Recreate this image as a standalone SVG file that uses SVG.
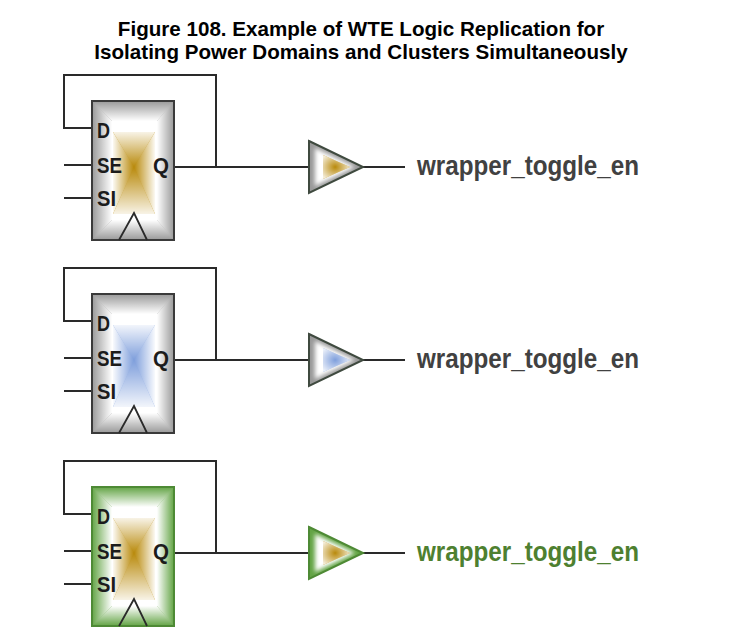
<svg xmlns="http://www.w3.org/2000/svg" width="733" height="637" viewBox="0 0 733 637">
<style>
.title{font:bold 20.6px "Liberation Sans",Arial,sans-serif;fill:#000;text-anchor:middle}
.pin{font:bold 22px "Liberation Sans",Arial,sans-serif;fill:#1c1c1c}
.sig{font:bold 27px "Liberation Sans",Arial,sans-serif;fill:#414141}
.green{fill:#4e8030}
.wire{fill:none;stroke:#2a2a2a;stroke-width:2}
.clk{fill:none;stroke:#2a2a2a;stroke-width:1.8}
</style>
<defs>
<filter id="soft" x="-30%" y="-30%" width="160%" height="160%"><feGaussianBlur stdDeviation="2"/></filter>
<clipPath id="bufClip"><path d="M309 141L363 167L309 193Z"/></clipPath>
<radialGradient id="bufFade" cx="0.45" cy="0.5" r="0.6"><stop offset="0" stop-color="#fff" stop-opacity="0"/><stop offset="1" stop-color="#fff" stop-opacity="0.85"/></radialGradient>
<linearGradient id="wl" x1="0" x2="1" y1="0" y2="0"><stop offset="0" stop-color="#fff" stop-opacity="0"/><stop offset="1" stop-color="#fff"/></linearGradient>
<linearGradient id="wr" x1="1" x2="0" y1="0" y2="0"><stop offset="0" stop-color="#fff" stop-opacity="0"/><stop offset="1" stop-color="#fff"/></linearGradient>
<linearGradient id="wt" x1="0" x2="0" y1="0" y2="1"><stop offset="0" stop-color="#fff" stop-opacity="0"/><stop offset="1" stop-color="#fff"/></linearGradient>
<linearGradient id="wb" x1="0" x2="0" y1="1" y2="0"><stop offset="0" stop-color="#fff" stop-opacity="0"/><stop offset="1" stop-color="#fff"/></linearGradient>
<linearGradient id="cl" x1="0" x2="1" y1="0" y2="0"><stop offset="0" stop-color="#fff" stop-opacity="0.95"/><stop offset="1" stop-color="#fff" stop-opacity="0"/></linearGradient>
<linearGradient id="cr" x1="1" x2="0" y1="0" y2="0"><stop offset="0" stop-color="#fff" stop-opacity="0.95"/><stop offset="1" stop-color="#fff" stop-opacity="0"/></linearGradient>
<linearGradient id="ct" x1="0" x2="0" y1="0" y2="1"><stop offset="0" stop-color="#fff" stop-opacity="0.9"/><stop offset="1" stop-color="#fff" stop-opacity="0"/></linearGradient>
<linearGradient id="cb" x1="0" x2="0" y1="1" y2="0"><stop offset="0" stop-color="#fff" stop-opacity="0.9"/><stop offset="1" stop-color="#fff" stop-opacity="0"/></linearGradient>
<g id="ffOverlay">
<path fill="url(#wl)" d="M92 101L112 121V220L92 240Z"/>
<path fill="url(#wr)" d="M174 101L157 121V220L174 240Z"/>
<path fill="url(#wt)" d="M92 101H174L157 121H112Z"/>
<path fill="url(#wb)" d="M92 240H174L157 220H112Z"/>
<rect x="112" y="121" width="45" height="99" fill="#fff"/>
</g>
<g id="ffCore">
<path fill="url(#cl)" d="M113 132L134 167L113 214Z"/>
<path fill="url(#cr)" d="M155 132L134 167L155 214Z"/>
<path fill="url(#ct)" d="M113 132H155L134 167Z"/>
<path fill="url(#cb)" d="M113 214H155L134 167Z"/>
</g>
<g id="ffWires">
<path class="wire" d="M92 128H64V75H216V167"/>
<path class="wire" d="M64 165H92M64 198H92M174 167H309M363 167H405"/>
</g>
<g id="bufWhite">
<g clip-path="url(#bufClip)"><path d="M315 148L355 167L315 186Z" fill="#fff" filter="url(#soft)"/></g>
</g>
<g id="pins">
<text class="pin" x="97" y="138" textLength="13" lengthAdjust="spacingAndGlyphs">D</text>
<text class="pin" x="97" y="173" textLength="25" lengthAdjust="spacingAndGlyphs">SE</text>
<text class="pin" x="97" y="206" textLength="19" lengthAdjust="spacingAndGlyphs">SI</text>
<text class="pin" x="153" y="173" textLength="16" lengthAdjust="spacingAndGlyphs">Q</text>
</g>
</defs>
<g id="title">
<text class="title" x="361" y="36">Figure 108. Example of WTE Logic Replication for</text>
<text class="title" x="361" y="59">Isolating Power Domains and Clusters Simultaneously</text>
</g>
<g id="connectors">
<use href="#ffWires"/>
<use href="#ffWires" y="193"/>
<use href="#ffWires" y="386"/>
</g>
<g id="ff1">
<rect x="92" y="101" width="82" height="139" fill="#999"/>
<use href="#ffOverlay"/>
<rect x="113" y="132" width="42" height="82" fill="#b98a0c"/>
<use href="#ffCore"/>
<rect x="92" y="101" width="82" height="139" fill="none" stroke="#3a3a3a" stroke-width="2"/>
<path class="clk" d="M119 240L134 213L147 240"/>
<use href="#pins"/>
</g>
<g id="ff2" transform="translate(0 193)">
<rect x="92" y="101" width="82" height="139" fill="#999"/>
<use href="#ffOverlay"/>
<rect x="113" y="132" width="42" height="82" fill="#7f9fdc"/>
<use href="#ffCore"/>
<rect x="92" y="101" width="82" height="139" fill="none" stroke="#3a3a3a" stroke-width="2"/>
<path class="clk" d="M119 240L134 213L147 240"/>
<use href="#pins"/>
</g>
<g id="ff3" transform="translate(0 386)">
<rect x="92" y="101" width="82" height="139" fill="#63a445"/>
<use href="#ffOverlay"/>
<rect x="113" y="132" width="42" height="82" fill="#b98a0c"/>
<use href="#ffCore"/>
<rect x="92" y="101" width="82" height="139" fill="none" stroke="#4e8a35" stroke-width="2"/>
<path class="clk" d="M119 240L134 213L147 240"/>
<use href="#pins"/>
</g>
<g id="buf1">
<path d="M309 141L363 167L309 193Z" fill="#999"/>
<use href="#bufWhite"/>
<path d="M323 155L350 167L323 179Z" fill="#b98a0c"/>
<path d="M323 155L350 167L323 179Z" fill="url(#bufFade)"/>
<path d="M309 141L363 167L309 193Z" fill="none" stroke="#3f4a3f" stroke-width="2"/>
</g>
<g id="buf2" transform="translate(0 193)">
<path d="M309 141L363 167L309 193Z" fill="#999"/>
<use href="#bufWhite"/>
<path d="M323 155L350 167L323 179Z" fill="#7f9fdc"/>
<path d="M323 155L350 167L323 179Z" fill="url(#bufFade)"/>
<path d="M309 141L363 167L309 193Z" fill="none" stroke="#3f4a3f" stroke-width="2"/>
</g>
<g id="buf3" transform="translate(0 386)">
<path d="M309 141L363 167L309 193Z" fill="#63a445"/>
<use href="#bufWhite"/>
<path d="M323 155L350 167L323 179Z" fill="#b98a0c"/>
<path d="M323 155L350 167L323 179Z" fill="url(#bufFade)"/>
<path d="M309 141L363 167L309 193Z" fill="none" stroke="#4e8a35" stroke-width="2"/>
</g>
<g id="labels">
<text class="sig" x="417" y="175" textLength="222" lengthAdjust="spacingAndGlyphs">wrapper_toggle_en</text>
<text class="sig" x="417" y="368" textLength="222" lengthAdjust="spacingAndGlyphs">wrapper_toggle_en</text>
<text class="sig green" x="417" y="561" textLength="222" lengthAdjust="spacingAndGlyphs">wrapper_toggle_en</text>
</g>
</svg>
